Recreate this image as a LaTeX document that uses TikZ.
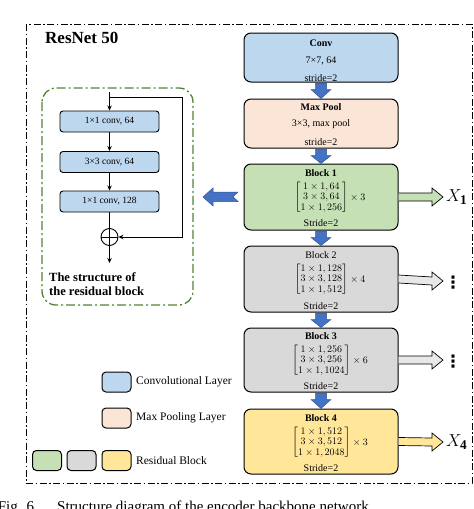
\documentclass[tikz,border=0pt]{standalone}
\usepackage{fontspec}
\setmainfont{Liberation Serif}
\newfontfamily\dejavu{DejaVu Sans}
\usetikzlibrary{arrows.meta,calc}
\definecolor{cblue}{RGB}{189,215,238}
\definecolor{cpool}{RGB}{251,229,214}
\definecolor{cgreen}{RGB}{197,224,180}
\definecolor{cgray}{RGB}{217,217,217}
\definecolor{cyellow}{RGB}{255,230,153}
\definecolor{arrblue}{RGB}{68,114,196}
\definecolor{dgreen}{RGB}{84,130,53}
\newcommand\mydownarrow[2]{%
  \filldraw[fill=arrblue, draw=arrblue!75!black, line width=0.5pt]
    ($(#1.south)+(-5.5,0.5)$) -- ($(#1.south)+(-5.5,7)$) -- ($(#1.south)+(-10,7)$) -- (#2.north)
    -- ($(#1.south)+(10,7)$) -- ($(#1.south)+(5.5,7)$) -- ($(#1.south)+(5.5,0.5)$) -- cycle;}
\newcommand\myoutarrow[3]{%
  \filldraw[fill=#3, line width=0.7pt]
    ($(#1.east)+(0,-4)$) -- ($(#2)+(-11,-4)$) -- ($(#2)+(-11,-9)$) -- (#2)
    -- ($(#2)+(-11,9)$) -- ($(#2)+(-11,4)$) -- ($(#1.east)+(0,4)$);}
\newcommand\mymat[4]{$\left[\begin{array}{@{}c@{}}1\times1,#1\\ 3\times3,#2\\ 1\times1,#3\end{array}\right]\times#4$}
\begin{document}
\begin{tikzpicture}[x=1pt,y=-1pt,
  box/.style={draw, line width=1pt, rounded corners=7pt, minimum width=154pt, inner sep=0pt},
  ttl/.style={inner sep=0pt, font=\fontsize{10}{11}\selectfont\bfseries},
  txt/.style={inner sep=0pt, font=\fontsize{10}{11}\selectfont},
  mat/.style={inner sep=0pt, font=\fontsize{10}{10.5}\selectfont},
  rbox/.style={draw, fill=cblue, line width=0.9pt, rounded corners=3pt, minimum width=99pt, minimum height=21pt, inner sep=0pt, font=\fontsize{9.5}{10}\selectfont},
  lbox/.style={draw, line width=1pt, rounded corners=4pt, minimum width=29pt, minimum height=20pt, inner sep=0pt},
  ltxt/.style={inner sep=0pt, anchor=west, font=\fontsize{11.5}{13}\selectfont},
  arr/.style={line width=0.9pt, -{Stealth[length=5pt,width=4.5pt]}},
  xlab/.style={inner sep=0pt, font=\fontsize{19}{21}\selectfont},
  vdot/.style={inner sep=0pt, font=\fontsize{17}{18}\selectfont\dejavu\bfseries}
]
\useasboundingbox (0,0) rectangle (474,509);
% outer frame
\draw[line width=0.8pt, dash pattern=on 7pt off 2.5pt on 1.5pt off 2.5pt] (26,24) rectangle (472,483);
\node[inner sep=0pt, anchor=west, font=\fontsize{17}{19}\selectfont\bfseries] (title) at (45,37.5) {ResNet 50};

% main column
\node[box, fill=cblue, minimum height=49pt] (conv) at (321,57.5) {};
\node[box, fill=cpool, minimum height=49pt] (pool) at (321,123.5) {};
\node[box, fill=cgreen, minimum height=66pt] (b1) at (321,197) {};
\node[box, fill=cgray, minimum height=66pt] (b2) at (321,279) {};
\node[box, fill=cgray, minimum height=64pt] (b3) at (321,360) {};
\node[box, fill=cyellow, minimum height=65pt] (b4) at (321,441.5) {};

\mydownarrow{conv}{pool}
\mydownarrow{pool}{b1}
\mydownarrow{b1}{b2}
\mydownarrow{b2}{b3}
\mydownarrow{b3}{b4}

\node[ttl] (convt) at (321,43) {Conv};
\node[txt] (convk) at (321,61) {7×7, 64};
\node[txt] (convs) at (321,78.5) {stride=2};
\node[ttl] (poolt) at (321,107.5) {Max Pool};
\node[txt] (poolk) at (321,124) {3×3, max pool};
\node[txt] (pools) at (321,142.5) {stride=2};

\node[ttl] (b1t) at (321,173.5) {Block 1};
\node[mat] (b1m) at (330,197.5) {\mymat{64}{64}{256}{3}};
\node[txt] (b1s) at (321,223.5) {Stride=2};
\node[txt] (b2t) at (321,255.5) {Block 2};
\node[mat] (b2m) at (330,279.5) {\mymat{128}{128}{512}{4}};
\node[txt] (b2s) at (321,306) {Stride=2};
\node[ttl] (b3t) at (321,336.5) {Block 3};
\node[mat] (b3m) at (330,360.5) {\mymat{256}{256}{1024}{6}};
\node[txt] (b3s) at (321,386.5) {Stride=2};
\node[ttl] (b4t) at (321,418) {Block 4};
\node[mat] (b4m) at (330,442.5) {\mymat{512}{512}{2048}{3}};
\node[txt] (b4s) at (321,468.5) {Stride=2};

% outputs
\coordinate (t1) at (443,197);
\coordinate (t2) at (443,281);
\coordinate (t3) at (443,360);
\coordinate (t4) at (443,442);
\myoutarrow{b1}{t1}{cgreen}
\myoutarrow{b2}{t2}{cgray!60}
\myoutarrow{b3}{t3}{cgray!60}
\myoutarrow{b4}{t4}{cyellow}
\node[xlab, anchor=west] (x1) at (446,197) {$X_{\mathbf{1}}$};
\node[xlab, anchor=west] (x4) at (446,442) {$X_{\mathbf{4}}$};
\node[vdot] (d2) at (453,283) {⋮};
\node[vdot] (d3) at (453,362) {⋮};

% left arrow
\filldraw[fill=arrblue, draw=arrblue!75!black, line width=0.5pt]
  (238,192) -- (213,192) -- (213,188) -- (203,197) -- (213,206) -- (213,201.5) -- (238,201.5) -- (233,196.75) -- cycle;

% residual block
\draw[dgreen, line width=1.3pt, rounded corners=14pt, dash pattern=on 9pt off 3pt on 2pt off 3pt] (42,88) rectangle (193,305);
\node[rbox] (r1) at (109.5,121.5) {1×1 conv, 64};
\node[rbox] (r2) at (109.5,162) {3×3 conv, 64};
\node[rbox] (r3) at (109.5,201.5) {1×1 conv, 128};
\node[draw, circle, minimum size=17pt, inner sep=0pt, line width=0.9pt] (plus) at (109.5,237) {};
\draw[line width=0.9pt] (plus.west) -- (plus.east);
\draw[line width=0.9pt] (plus.north) -- (plus.south);
\coordinate (rin) at (109.5,92);
\coordinate (sk) at (109.5,97);
\coordinate (rout) at (109.5,263);
\draw[arr] (rin) -- (r1);
\draw[arr] (r1) -- (r2);
\draw[arr] (r2) -- (r3);
\draw[line width=0.9pt] (r3) -- (plus);
\draw[arr] (plus) -- (rout);
\draw[arr] (sk) -- ++(72.5,0) |- (plus.east);
\node[inner sep=0pt, anchor=west, align=left, font=\fontsize{12.5}{13.5}\selectfont\bfseries] (rlab) at (49,284) {The structure of\\the residual block};

% legend
\node[lbox, fill=cblue] (lg1) at (116.5,382) {};
\node[lbox, fill=cpool] (lg2) at (116.5,418) {};
\node[lbox, fill=cgreen] (lg3) at (47,460.5) {};
\node[lbox, fill=cgray] (lg4) at (81.5,460.5) {};
\node[lbox, fill=cyellow] (lg5) at (116.5,460.5) {};
\node[ltxt] (lt1) at (136,382) {Convolutional Layer};
\node[ltxt] (lt2) at (136,418) {Max Pooling Layer};
\node[ltxt] (lt3) at (136,460.5) {Residual Block};

% caption
\node[inner sep=0pt, anchor=base east, font=\fontsize{15}{17}\selectfont] (fig) at (38,511) {Fig. 6.};
\node[inner sep=0pt, anchor=base west, font=\fontsize{15}{17}\selectfont] (cap) at (57,511) {Structure diagram of the encoder backbone network.};
\end{tikzpicture}
\end{document}
